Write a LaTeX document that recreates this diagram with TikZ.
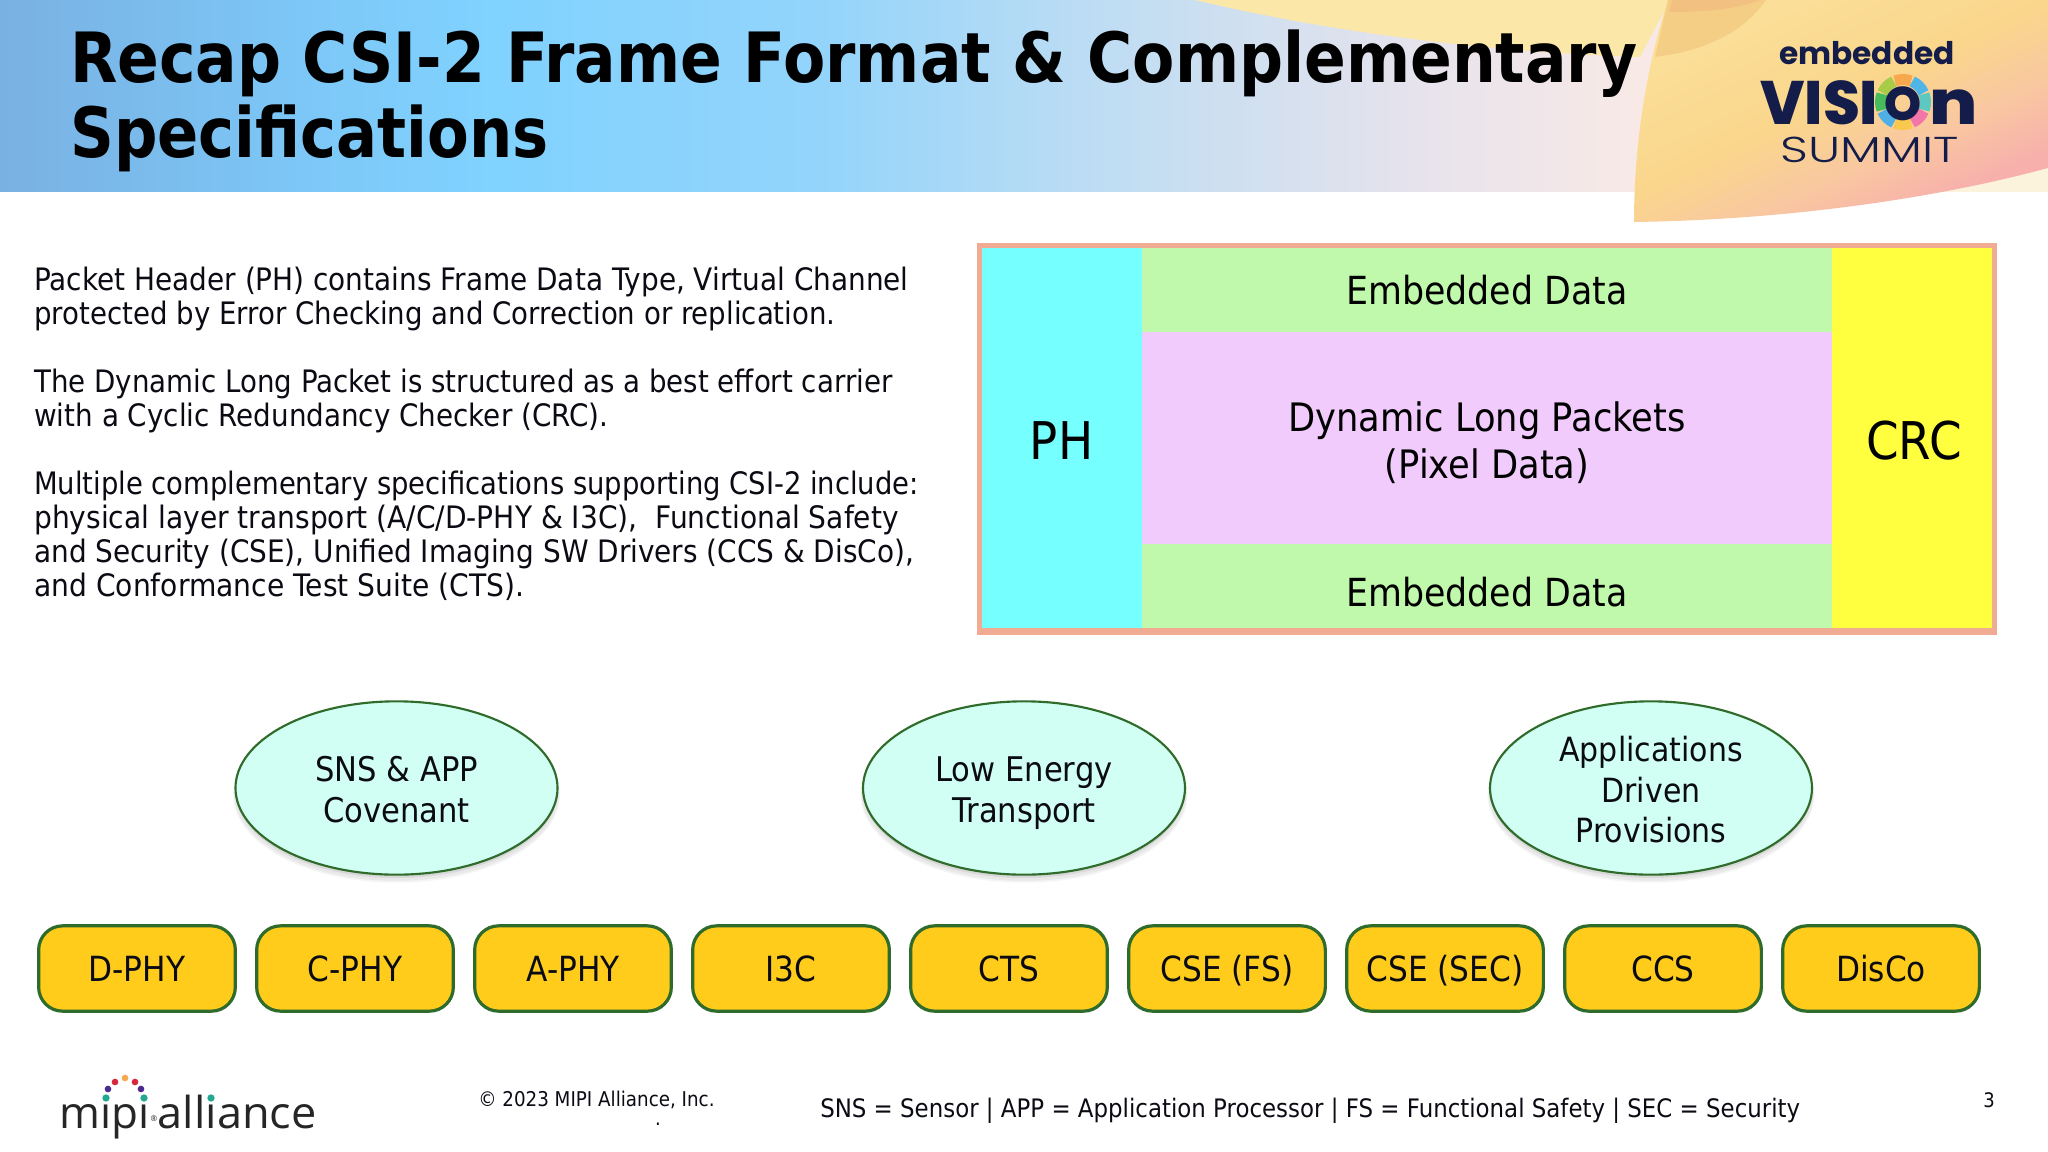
\documentclass[tikz,border=0pt]{standalone}
\usepackage{fontspec}
\usepackage{graphicx}
\setmainfont[FakeStretch=0.9]{DejaVu Sans}
\newfontfamily\titlefont[FakeStretch=0.888,UprightFont=* Bold]{DejaVu Sans}
\newfontfamily\popb[UprightFont=* Bold]{Poppins}
\newfontfamily\popx[UprightFont=* ExtraBold]{Poppins}
\newfontfamily\popl[UprightFont=* Light]{Poppins}
\newfontfamily\mipifont{Open Sans}
\usetikzlibrary{shapes.geometric,shadows}
\definecolor{hA}{HTML}{79B1E2}\definecolor{hB}{HTML}{7CC6F6}\definecolor{hC}{HTML}{80D2FF}
\definecolor{hD}{HTML}{93D4FB}\definecolor{hE}{HTML}{BFDDF3}\definecolor{hF}{HTML}{E8E3EC}\definecolor{hG}{HTML}{F8E9E6}
\definecolor{cyanc}{HTML}{75FFFF}\definecolor{greenc}{HTML}{C0F8AC}\definecolor{pinkc}{HTML}{F0CBFC}
\definecolor{yellowc}{HTML}{FFFF3F}\definecolor{framec}{HTML}{F2AB93}
\definecolor{boxf}{HTML}{FFCC1C}\definecolor{edgec}{HTML}{2F6B2A}\definecolor{ellf}{HTML}{D2FFF3}
\definecolor{navy}{HTML}{141C4A}\definecolor{ink}{HTML}{0B0B14}
\definecolor{creamc}{HTML}{FBF3DC}\definecolor{ylA}{HTML}{FBE7A8}\definecolor{blA}{HTML}{FBE09A}\definecolor{blB}{HTML}{FAD68C}\definecolor{blM}{HTML}{F9C8A0}\definecolor{blC}{HTML}{F7B0AC}
\definecolor{orA}{HTML}{F5CE85}\definecolor{orB}{HTML}{F2C080}
\definecolor{tealc}{HTML}{22A98F}\definecolor{purpc}{HTML}{4B2A8C}\definecolor{redc}{HTML}{D7263D}\definecolor{orgc}{HTML}{F4A950}
\definecolor{rA}{HTML}{5CC8C0}\definecolor{rB}{HTML}{4FB4E6}\definecolor{rC}{HTML}{F7A84C}\definecolor{rD}{HTML}{A8CC48}\definecolor{rE}{HTML}{46BC5C}\definecolor{rF}{HTML}{4FB0E6}\definecolor{rG}{HTML}{F9C84C}\definecolor{rH}{HTML}{F276A7}
\pgfdeclarehorizontalshading{hdr}{100bp}{color(0bp)=(hA);color(25bp)=(hA);color(32bp)=(hB);color(37bp)=(hC);color(45bp)=(hD);color(52bp)=(hE);color(60bp)=(hF);color(65bp)=(hG);color(100bp)=(hG)}
\pgfdeclareverticalshading{blobsh}{100bp}{color(0bp)=(blC);color(28bp)=(blC);color(40bp)=(blM);color(52bp)=(blB);color(75bp)=(blA);color(100bp)=(blA)}
\newcommand\lnfit[2]{\scalebox{#1}[1]{#2}}
\newcommand\estrut{\rule[-6pt]{0pt}{33pt}}
\tikzset{
  x=.75pt,y=-.75pt,
  celltext/.style={anchor=base,inner sep=0pt,align=center,text=black},
  specbox/.style={draw=edgec,line width=2.4pt,fill=boxf,rounded corners=18pt,minimum width=147.5pt,minimum height=64pt,inner sep=0pt,text=ink,text height=24pt,text depth=5pt,font=\fontsize{26}{30}\selectfont},
  goalell/.style={ellipse,draw=edgec,line width=1.6pt,fill=ellf,minimum width=241.5pt,minimum height=130pt,inner sep=0pt,align=center,text=ink,font=\fontsize{25.5}{30.4}\selectfont,
    general shadow={shadow xshift=0pt,shadow yshift=-5pt,fill=black!35,opacity=.10,shadow scale=1.015},
    general shadow={shadow xshift=0pt,shadow yshift=-4pt,fill=black!35,opacity=.15,shadow scale=1.01},
    general shadow={shadow xshift=0pt,shadow yshift=-2.5pt,fill=black!35,opacity=.25,shadow scale=1.0}},
  bodytxt/.style={anchor=north west,inner sep=0pt,align=left,text=ink,font=\fontsize{23.2}{25.5}\selectfont},
  mdot/.style={circle,inner sep=0pt,minimum size=5pt}
}
\begin{document}
\begin{tikzpicture}
\useasboundingbox (0,0) rectangle (2048,1152);
\fill[white] (0,0) rectangle (2048,1152);
% header band
\shade[shading=hdr] (0,0) rectangle (2048,192);
\fill[creamc] (1640,168) rectangle (2048,192);
\fill[ylA] (1195,0) .. controls (1320,30) and (1480,52) .. (1640,57) -- (1670,0) -- cycle;
\shade[shading=blobsh,shading angle=25]
  (1668,0) .. controls (1645,70) and (1634,150) .. (1634,222)
  .. controls (1780,220) and (1930,200) .. (2048,168) -- (2048,0) -- cycle;
\fill[orA] (1668,0) -- (1655,57) .. controls (1710,50) and (1745,30) .. (1766,0) -- cycle;
\fill[orB] (1672,0) -- (1669,12) .. controls (1710,12) and (1740,8) .. (1760,0) -- cycle;
% title
\node[anchor=base west,inner sep=0pt,text=black,font=\titlefont\fontsize{52}{60}\selectfont] (t1) at (70,83) {Recap CSI-2 Frame Format \& Complementary};
\node[anchor=base west,inner sep=0pt,text=black,font=\titlefont\fontsize{52}{60}\selectfont] (t2) at (70,157) {\lnfit{.987}{Specifications}};
% logo
\foreach \a/\c in {0/rA,315/rB,270/rC,225/rD,180/rE,135/rF,90/rG,45/rH}
  \draw[line width=8.25pt,\c] (1903,102) ++(\a-21:22.5) arc[start angle=\a-21,end angle=\a+21,radius=22.5];
\node[anchor=base,inner sep=0pt,text=navy,font=\popb\fontsize{23.4}{24}\selectfont] (lg1) at (1867,65) {embedded};
\node[anchor=base west,inner sep=0pt,text=navy,font=\popx\fontsize{46}{46}\selectfont] (lg2) at (1760,125) {\makebox[87.75pt][l]{\scalebox{.97}[1]{VISI}}\makebox[39pt][c]{\raisebox{3.7pt}{\scalebox{.77}{O}}}\makebox[34pt][l]{\scalebox{1.15}[1]{n}}};
\node[anchor=base,inner sep=0pt,text=navy,font=\popl\fontsize{27}{27}\selectfont] (lg3) at (1870,162) {\scalebox{1.35}[1]{SUMMIT}};
% body text
\node[bodytxt] (para) at (34,267) {\lnfit{1.003}{Packet Header (PH) contains Frame Data Type, Virtual Channel}\\\lnfit{.992}{protected by Error Checking and Correction or replication.}\\[25.5pt]\lnfit{.994}{The Dynamic Long Packet is structured as a best effort carrier}\\\lnfit{.998}{with a Cyclic Redundancy Checker (CRC).}\\[25.5pt]\lnfit{.985}{Multiple complementary specifications supporting CSI-2 include:}\\\lnfit{1.009}{physical layer transport (A/C/D-PHY \& I3C),\ \ Functional Safety}\\\lnfit{1.003}{and Security (CSE), Unified Imaging SW Drivers (CCS \& DisCo),}\\\lnfit{1.011}{and Conformance Test Suite (CTS).}};
% frame
\fill[framec] (977,243) rectangle (1997,635);
\fill[cyanc] (982,248) rectangle (1142,628);
\fill[greenc] (1142,248) rectangle (1832,332);
\fill[pinkc] (1142,332) rectangle (1832,544);
\fill[greenc] (1142,544) rectangle (1832,628);
\fill[yellowc] (1832,248) rectangle (1992,628);
\node[celltext,font=\fontsize{39}{43}\selectfont] (ph) at (1061.5,459) {PH};
\node[celltext,font=\fontsize{29}{33}\selectfont] (ed1) at (1487,304) {Embedded Data};
\node[celltext,font=\fontsize{29.4}{35.5}\selectfont] (dlp1) at (1487,431) {Dynamic Long Packets};
\node[celltext,font=\fontsize{29.4}{35.5}\selectfont] (dlp2) at (1487,478) {(Pixel Data)};
\node[celltext,font=\fontsize{29}{33}\selectfont] (ed2) at (1487,606) {Embedded Data};
\node[celltext,font=\fontsize{39}{43}\selectfont] (crc) at (1914,459) {CRC};
% ellipses
\node[goalell] (e1) at (396.5,788) {\estrut SNS \& APP\\Covenant\rule[-6pt]{0pt}{0pt}};
\node[goalell] (e2) at (1024,788) {\estrut Low Energy\\Transport\rule[-6pt]{0pt}{0pt}};
\node[goalell,inner ysep=-4pt,font=\fontsize{25}{30.4}\selectfont] (e3) at (1651,788) {\estrut Applications\\Driven\\Provisions\rule[-6pt]{0pt}{0pt}};
% boxes
\node[specbox] (b1) at (137,968.5) {D-PHY};
\node[specbox] (b2) at (355,968.5) {C-PHY};
\node[specbox] (b3) at (573,968.5) {A-PHY};
\node[specbox] (b4) at (791,968.5) {I3C};
\node[specbox] (b5) at (1009,968.5) {CTS};
\node[specbox] (b6) at (1227,968.5) {CSE (FS)};
\node[specbox] (b7) at (1445,968.5) {CSE (SEC)};
\node[specbox] (b8) at (1663,968.5) {CCS};
\node[specbox] (b9) at (1881,968.5) {DisCo};
% footer
\node[anchor=base west,inner sep=0pt,text=black!85,font=\mipifont\fontsize{33}{33}\selectfont] (mipi) at (59.5,1128) {mipi\makebox[6pt]{\raisebox{5pt}{\fontsize{6}{6}\selectfont ®}}\scalebox{1.025}[1]{alliance}};
\node[mdot,minimum size=5.5pt,fill=tealc] (d1) at (106,1098) {};
\node[mdot,minimum size=5.5pt,fill=tealc] (d2) at (144,1098) {};
\node[mdot,minimum size=5.5pt,fill=tealc] (d3) at (211,1098) {};
\node[mdot,fill=purpc] (d4) at (108,1089) {};
\node[mdot,fill=purpc] (d5) at (141,1089) {};
\node[mdot,fill=redc] (d6) at (115,1082) {};
\node[mdot,fill=redc] (d7) at (135,1082) {};
\node[mdot,fill=orgc] (d8) at (125,1078) {};
\node[anchor=west,inner sep=0pt,text=ink,font=\fontsize{15.25}{18}\selectfont] (copy) at (478,1100) {© 2023 MIPI Alliance, Inc.};
\node[anchor=center,inner sep=0pt,text=ink,font=\fontsize{15}{18}\selectfont] (dot) at (658,1124) {.};
\node[anchor=west,inner sep=0pt,text=ink,font=\fontsize{19.08}{22}\selectfont] (fn) at (820,1110.5) {SNS = Sensor | APP = Application Processor | FS = Functional Safety | SEC = Security};
\node[anchor=center,inner sep=0pt,text=ink,font=\fontsize{15}{18}\selectfont] (pg) at (1989,1100) {3};
\end{tikzpicture}
\end{document}
